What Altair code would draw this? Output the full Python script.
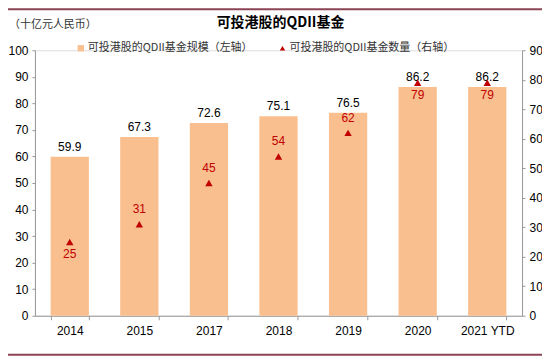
import altair as alt
import pandas as pd

years = ["2014", "2015", "2017", "2018", "2019", "2020", "2021 YTD"]
fund_size = [59.9, 67.3, 72.6, 75.1, 76.5, 86.2, 86.2]
fund_count = [25, 31, 45, 54, 62, 79, 79]
count_label_below = ["2014", "2020", "2021 YTD"]

df = pd.DataFrame({"year": years, "size": fund_size, "count": fund_count})

W, H = 488, 266
RED = "#C00000"
BAR = "#F9BF8F"
FONT = "Liberation Sans"
CJK = "Noto Sans CJK SC"

xenc = alt.X("year:N", sort=years,
             scale=alt.Scale(paddingInner=0.45, paddingOuter=0.225),
             axis=alt.Axis(title=None, labelAngle=0, labelFont=FONT, labelFontSize=12,
                           labelColor="#000", domainColor="#999", tickColor="#999",
                           tickBand="extent", tickSize=4, labelPadding=6))

left_axis = alt.Axis(title=None, values=list(range(0, 101, 10)), labelFont=FONT,
                     labelFontSize=12, labelColor="#000", domainColor="#999",
                     tickColor="#999", tickSize=3, grid=False, labelPadding=4,
                     labelOverlap=False)
right_axis = alt.Axis(title=None, orient="right", values=list(range(0, 91, 10)),
                      labelFont=FONT, labelFontSize=12, labelColor="#000",
                      domainColor="#999", tickColor="#999", tickSize=3, grid=False,
                      labelPadding=4, labelOverlap=False)

base = alt.Chart(df)
ysize = alt.Y("size:Q", scale=alt.Scale(domain=[0, 100]), axis=left_axis)
ycount = alt.Y("count:Q", scale=alt.Scale(domain=[0, 90]), axis=right_axis)
xs = alt.X("year:N", sort=years)

bars = base.mark_bar(color=BAR).encode(x=xenc, y=ysize)
bar_labels = base.mark_text(baseline="bottom", dy=-3, font=FONT, fontSize=12, color="#000").encode(
    x=xs, y=ysize, text=alt.Text("size:Q", format=".1f"))
left = alt.layer(bars, bar_labels)

tri = base.mark_point(shape="triangle-up", filled=True, color=RED, size=55, opacity=1).encode(
    x=xs, y=ycount)
lab_above = base.transform_filter(
    ~alt.FieldOneOfPredicate(field="year", oneOf=count_label_below)
).mark_text(dy=-15, font=FONT, fontSize=12, color=RED).encode(x=xs, y=ycount, text="count:Q")
lab_below = base.transform_filter(
    alt.FieldOneOfPredicate(field="year", oneOf=count_label_below)
).mark_text(dy=12, font=FONT, fontSize=12, color=RED).encode(x=xs, y=ycount, text="count:Q")
right = alt.layer(tri, lab_above, lab_below)

one = alt.Chart(pd.DataFrame({"a": [0]}))
title = one.mark_text(text="可投港股的QDII基金", font=CJK, fontSize=14, fontWeight="bold",
                      color="#000").encode(x=alt.value(246), y=alt.value(-27))
unit = one.mark_text(text="（十亿元人民币）", font=CJK, fontSize=11, align="left",
                     color="#333").encode(x=alt.value(-26), y=alt.value(-25))
leg_sq = one.mark_square(color=BAR, size=40, opacity=1).encode(x=alt.value(46), y=alt.value(-2))
leg_t1 = one.mark_text(text="可投港股的QDII基金规模（左轴）", font=CJK, fontSize=11, align="left",
                       color="#333").encode(x=alt.value(53), y=alt.value(-2))
leg_tri = one.mark_point(shape="triangle-up", filled=True, color=RED, size=30, opacity=1).encode(
    x=alt.value(248), y=alt.value(-2))
leg_t2 = one.mark_text(text="可投港股的QDII基金数量（右轴）", font=CJK, fontSize=11, align="left",
                       color="#333").encode(x=alt.value(255), y=alt.value(-2))
top_line = one.mark_rule(color="#8B4455", strokeWidth=2).encode(
    x=alt.value(-27), x2=alt.value(W + 20), y=alt.value(-41))
bot_line = one.mark_rule(color="#8B4455", strokeWidth=2).encode(
    x=alt.value(-27), x2=alt.value(W + 20), y=alt.value(305))
deco = alt.layer(title, unit, leg_sq, leg_t1, leg_tri, leg_t2, top_line, bot_line)

chart = alt.layer(left, right, deco).resolve_scale(y="independent").properties(
    width=W, height=H,
    autosize=alt.AutoSizeParams(type="none"),
    padding={"left": 27, "top": 42, "right": 20, "bottom": 40},
).configure_view(stroke=None).configure(background="white")

chart.save("out.html", embed_options={"renderer": "svg", "actions": False})
